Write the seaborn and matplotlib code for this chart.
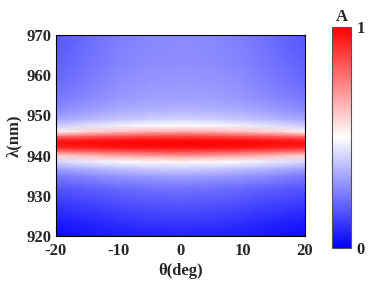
import numpy as np
import matplotlib
matplotlib.use("Agg")
import matplotlib.pyplot as plt
import seaborn as sns

# angle samples (deg)
theta = [-20, -15, -10, -5, 0, 5, 10, 15, 20]
# wavelength samples (nm)
lam = [920, 924, 928, 932, 935, 937, 938.5, 940, 941, 942, 943, 944, 945, 946,
       947.5, 949, 951, 954, 958, 963, 970]

# absorption profiles A(lambda), one per angle
A_edge = [0.02, 0.06, 0.11, 0.17, 0.24, 0.33, 0.42, 0.58, 0.76, 0.92, 0.97, 0.92,
          0.74, 0.52, 0.40, 0.33, 0.28, 0.24, 0.21, 0.19, 0.17]
A_15 = [0.04, 0.08, 0.13, 0.19, 0.27, 0.36, 0.46, 0.63, 0.79, 0.935, 0.98, 0.935,
        0.78, 0.58, 0.44, 0.36, 0.31, 0.27, 0.245, 0.225, 0.21]
A_10 = [0.055, 0.10, 0.15, 0.21, 0.295, 0.39, 0.49, 0.67, 0.82, 0.95, 0.99, 0.95,
        0.81, 0.62, 0.47, 0.39, 0.34, 0.30, 0.28, 0.26, 0.245]
A_5 = [0.065, 0.115, 0.165, 0.225, 0.31, 0.41, 0.51, 0.69, 0.84, 0.96, 1.00, 0.96,
       0.83, 0.65, 0.49, 0.41, 0.355, 0.315, 0.295, 0.275, 0.265]
A_0 = [0.07, 0.12, 0.17, 0.23, 0.32, 0.42, 0.52, 0.70, 0.85, 0.96, 1.00, 0.96,
       0.84, 0.66, 0.50, 0.42, 0.36, 0.32, 0.30, 0.28, 0.27]

columns = [A_edge, A_15, A_10, A_5, A_0, A_5, A_10, A_15, A_edge]
Z = np.array(columns).T  # rows: lambda, cols: theta

xticks = [-20, -10, 0, 10, 20]
yticks = [920, 930, 940, 950, 960, 970]

sns.set_theme(style="white")
plt.rcParams['font.family'] = ['Liberation Serif', 'DejaVu Serif']
plt.rcParams['font.weight'] = 'bold'

cmap = sns.blend_palette(["#0000ff", "#ffffff", "#ff0000"], as_cmap=True)

fig = plt.figure(figsize=(3.75, 2.83), dpi=100)
ax = fig.add_axes([0.149, 0.166, 0.664, 0.710])
cax = fig.add_axes([0.885, 0.124, 0.051, 0.781])

mesh = ax.pcolormesh(theta, lam, Z, shading='gouraud', cmap=cmap, vmin=0, vmax=1)
ax.set_xlim(-20, 20)
ax.set_ylim(920, 970)
ax.set_xticks(xticks)
ax.set_yticks(yticks)
ax.set_xticklabels([str(v) for v in xticks], fontsize=12, fontweight='bold')
ax.set_yticklabels([str(v) for v in yticks], fontsize=12, fontweight='bold')
ax.tick_params(axis='x', length=0, pad=5)
ax.tick_params(axis='y', length=0, pad=3)
ax.set_xlabel("θ(deg)", fontsize=12, fontweight='bold', labelpad=3)
ax.set_ylabel("λ(nm)", fontsize=12, fontweight='bold', labelpad=3)
for s in ax.spines.values():
    s.set_visible(True)
    s.set_color('black')
    s.set_linewidth(0.8)

cb = fig.colorbar(mesh, cax=cax)
cb.set_ticks([0, 1])
cb.set_ticklabels(["0", "1"])
cax.tick_params(length=0, labelsize=12, pad=4)
for t in cax.get_yticklabels():
    t.set_fontweight('bold')
cax.set_yticks(np.arange(0.1, 1.0, 0.1), minor=True)
cax.tick_params(which='minor', length=3, width=0.6, direction='in', color='#333333', right=True, left=False)
cb.outline.set_edgecolor('#555555')
cb.outline.set_linewidth(0.8)
cax.set_title("A", fontsize=12, fontweight='bold', pad=4)

fig.savefig("out.png", dpi=100)
